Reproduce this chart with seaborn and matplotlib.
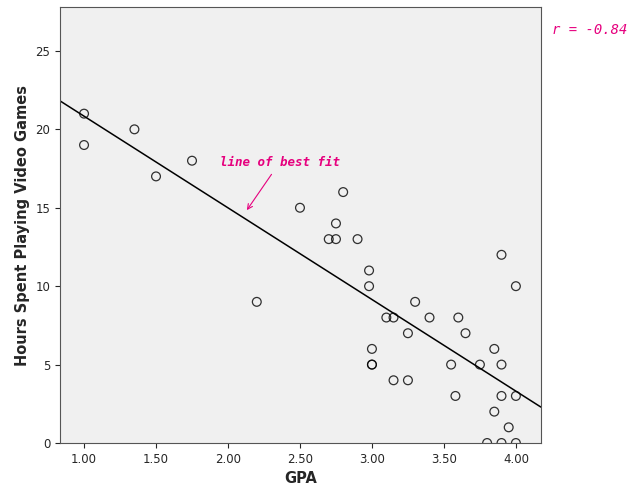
import matplotlib
matplotlib.use("Agg")
import matplotlib.pyplot as plt
import seaborn as sns
import pandas as pd

gpa = [1.0,1.0,1.35,1.5,1.75,2.2,2.5,2.7,2.75,2.75,2.8,2.9,2.98,2.98,3.0,3.0,3.0,3.1,3.15,3.15,
       3.25,3.25,3.3,3.4,3.55,3.58,3.6,3.65,3.75,3.85,3.85,3.8,3.9,3.9,3.9,3.9,3.95,4.0,4.0,4.0]
hours = [21,19,20,17,18,9,15,13,13,14,16,13,11,10,6,5,5,8,8,4,
         7,4,9,8,5,3,8,7,5,6,2,0,12,5,3,0,1,10,3,0]
xticks = [1.0,1.5,2.0,2.5,3.0,3.5,4.0]
yticks = [0,5,10,15,20,25]

df = pd.DataFrame({"GPA": gpa, "Hours": hours})
sns.set_style("ticks")
fig = plt.figure(figsize=(6.29,4.9), dpi=100)
ax = fig.add_axes([0.0954,0.0959,0.7646,0.8898])
ax.set_facecolor("#f0f0f0")
ax.set_xlim(0.833,4.174)
ax.set_ylim(0,27.8)
sns.regplot(data=df, x="GPA", y="Hours", ax=ax, ci=None, truncate=False,
            scatter_kws=dict(facecolors="none", edgecolors="black", s=40, linewidths=0.9),
            line_kws=dict(color="black", lw=1.1))
ax.set_xlim(0.833,4.174)
ax.set_ylim(0,27.8)
ax.set_xticks(xticks)
ax.set_xticklabels([f"{t:.2f}" for t in xticks], fontsize=8.5)
ax.set_yticks(yticks)
ax.set_yticklabels([str(t) for t in yticks], fontsize=8.5)
ax.set_xlabel("GPA", fontsize=10.5, fontweight="bold")
ax.set_ylabel("Hours Spent Playing Video Games", fontsize=10.5, fontweight="bold")
for s in ax.spines.values():
    s.set_color("#555555")
ax.annotate("line of best fit", xy=(2.12,14.7), xytext=(2.36,17.9), color="#e6007e",
            fontsize=9, fontstyle="italic", fontfamily="DejaVu Sans Mono", fontweight="bold",
            ha="center", va="center",
            arrowprops=dict(arrowstyle="->", color="#e6007e", lw=0.8))
fig.text(0.937,0.938,"r = -0.84", color="#e6007e", fontsize=10, fontstyle="italic",
         fontfamily="DejaVu Sans Mono", ha="center", va="center")
fig.savefig("out.png", dpi=100)
